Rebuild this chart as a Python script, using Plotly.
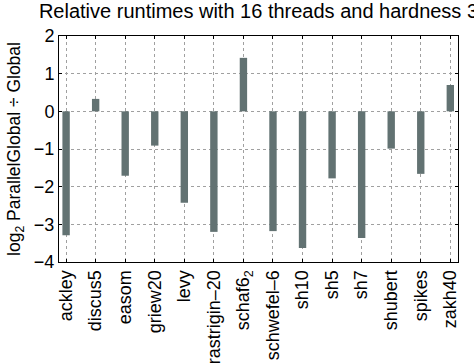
import plotly.graph_objects as go

categories = ["ackley", "discus5", "easom", "griew20", "levy", "rastrigin–20",
              "schaf6<sub>2</sub>", "schwefel–6", "sh10", "sh5", "sh7", "shubert",
              "spikes", "zakh40"]
values = [-3.29, 0.33, -1.71, -0.91, -2.43, -3.20, 1.42, -3.18, -3.63, -1.78,
          -3.36, -0.99, -1.66, 0.70]
y_ticks = [-4, -3, -2, -1, 0, 1, 2]

x_idx = list(range(len(categories)))

fig = go.Figure(go.Bar(x=x_idx, y=values, width=0.25,
                       marker=dict(color="#627272", line=dict(width=0))))

font = "Liberation Sans, Arial, sans-serif"
fig.update_layout(
    width=474, height=364,
    margin=dict(l=59, r=16, t=36, b=102),
    paper_bgcolor="white", plot_bgcolor="white",
    showlegend=False,
    font=dict(family=font, size=18, color="black"),
    title=dict(text="Relative runtimes with 16 threads and hardness 3",
               xref="paper", x=0.5, xanchor="center", y=0.97, yanchor="middle",
               font=dict(size=20, family=font, color="black"),
               automargin=False),
    xaxis=dict(tickmode="array", tickvals=x_idx, ticktext=categories,
               tickangle=-90, range=[-0.24, 13.26], automargin=False,
               showgrid=True, gridcolor="#a0a0a0", griddash="dot", gridwidth=1,
               showline=True, linecolor="black", linewidth=1, mirror="allticks",
               ticks="inside", ticklen=3, tickcolor="black",
               zeroline=False, tickfont=dict(size=18)),
    yaxis=dict(tickmode="array", tickvals=y_ticks, range=[-4, 2], automargin=False,
               showgrid=True, gridcolor="#a0a0a0", griddash="dot", gridwidth=1,
               showline=True, linecolor="black", linewidth=1, mirror="allticks",
               ticks="inside", ticklen=3, tickcolor="black",
               zeroline=False, tickfont=dict(size=18),
               title=dict(text="log<sub>2</sub> ParallelGlobal ÷ Global",
                          font=dict(size=17.5), standoff=8)),
)

fig.write_html("out.html", config={"displayModeBar": False},
               post_script="document.body.style.margin='0';document.body.style.overflow='hidden';")
